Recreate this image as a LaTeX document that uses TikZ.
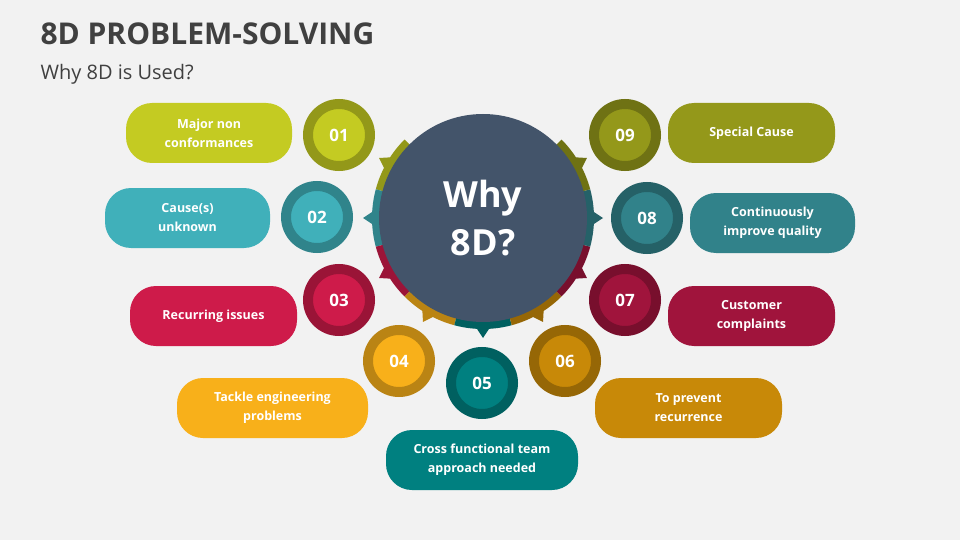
\documentclass[tikz,border=0pt]{standalone}
\usepackage{fontspec}
\setmainfont{Open Sans}
\usetikzlibrary{calc}
\begin{document}
\begin{tikzpicture}[x=1pt,y=-1pt,
  pill/.style={rounded corners=26pt,minimum height=60pt,text=white,font=\bfseries\fontsize{12.5}{19}\selectfont,align=center,inner sep=0pt},
  numc/.style={circle,minimum size=62pt,line width=10pt,text=white,font=\bfseries\fontsize{17}{17}\selectfont,inner sep=0pt}]
\definecolor{bg}{RGB}{242,242,242}
\definecolor{cA}{RGB}{196,203,34}\definecolor{cB}{RGB}{64,176,186}\definecolor{cC}{RGB}{206,27,74}
\definecolor{cD}{RGB}{248,176,26}\definecolor{cE}{RGB}{0,128,128}\definecolor{cF}{RGB}{200,137,8}
\definecolor{cG}{RGB}{160,20,60}\definecolor{cH}{RGB}{49,130,138}\definecolor{cI}{RGB}{148,152,26}
\definecolor{mid}{RGB}{67,84,106}\definecolor{ttl}{RGB}{64,64,64}
\fill[bg] (0,0) rectangle (960,540);
\useasboundingbox (0,0) rectangle (960,540);
\node[anchor=west,text=ttl,font=\bfseries\fontsize{30}{30}\selectfont] (t) at (37,34) {8D PROBLEM-SOLVING};
\node[anchor=west,text=ttl,font=\fontsize{20}{20}\selectfont] (s) at (37,74) {Why 8D is Used?};
\coordinate (c) at (483,218);
\foreach \b/\col in {150/cA,180/cB,210/cC,240/cD,270/cE,300/cF,330/cG,0/cH,30/cI}{
  \pgfmathsetmacro\a{-\b}
  \fill[\col!75!black] (c) -- ++(\a-15:111) arc[start angle=\a-15,end angle=\a+15,radius=111] -- cycle;
  \fill[\col!75!black] ($(c)+(\a-3.5:110)$) -- ($(c)+(\a:120)$) -- ($(c)+(\a+3.5:110)$) -- cycle;
}
\node[circle,fill=mid,minimum size=208pt,text=white,font=\bfseries\fontsize{36}{48}\selectfont,align=center] (m) at (c) {Why\\8D?};
\foreach \n/\x/\y/\col/\xa/\xb/\ya/\txt in {
 01/339/135/cA/126/292/103/{Major non\\conformances},
 02/317/217/cB/105/270/188/{Cause(s)\\unknown},
 03/339/300/cC/130/297/286/{Recurring issues},
 04/399/361/cD/177/368/378/{Tackle engineering\\problems},
 05/482/383/cE/386/578/430/{Cross functional team\\approach needed},
 06/565/361/cF/595/782/378/{To prevent\\recurrence},
 07/625/300/cG/668/835/286/{Customer\\complaints},
 08/647/218/cH/690/855/193/{Continuously\\improve quality},
 09/625/135/cI/668/835/103/{Special Cause}}{
  \node[pill,fill=\col,minimum width={\xb-\xa}] (p\n) at ({(\xa+\xb)/2},{\ya+30}) {\txt};
  \node[numc,fill=\col,draw=\col!75!black] (n\n) at (\x,\y) {\n};
}
\end{tikzpicture}
\end{document}
